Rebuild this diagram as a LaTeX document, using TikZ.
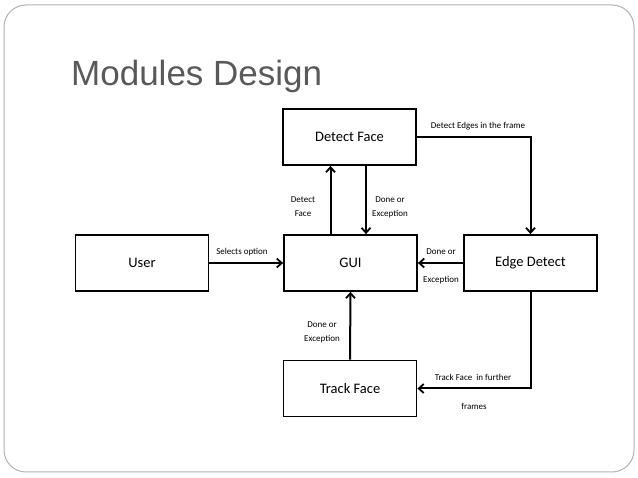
\documentclass[tikz,border=0pt]{standalone}
\usepackage{fontspec}
\setmainfont{Carlito}
\newfontfamily\titlefont{Liberation Sans}
\usetikzlibrary{arrows.meta}
\definecolor{titlegray}{RGB}{89,89,89}
\begin{document}
\begin{tikzpicture}[x=1pt,y=-1pt,
  modbox/.style={draw=black,line width=1.8pt,fill=white,minimum width=133pt,minimum height=56pt,inner sep=0pt,
    font=\fontsize{14.5}{16}\selectfont},
  arr/.style={line width=2pt,-{Straight Barb[length=5pt,width=9pt,line width=1.8pt]}},
  lbl/.style={font=\fontsize{9}{11}\selectfont,inner sep=0pt,align=center}]
\useasboundingbox (0,0) rectangle (638,478);
\draw[gray!60,line width=1pt,rounded corners=22pt] (4,5) rectangle (634,472);
\node[text=titlegray,font=\titlefont\fontsize{35}{40}\selectfont,anchor=base west,inner sep=0pt] (title) at (71,86) {Modules Design};

\node[modbox] (DF) at (349.5,137) {Detect Face};
\node[modbox] (US) at (142,263) {User};
\node[modbox] (GUI) at (350.5,263) {GUI};
\node[modbox] (ED) at (530.5,263) {Edge Detect};
\node[modbox] (TF) at (350,388.5) {Track Face};

\draw[arr] ([xshift=-20pt]GUI.north) -- ([xshift=-20pt]GUI.north |- DF.south);
\draw[arr] ([xshift=16.5pt]DF.south) -- ([xshift=16.5pt]DF.south |- GUI.north);
\draw[arr] (DF.east) -| (ED.north);
\draw[arr] (US.east) -- (GUI.west);
\draw[arr] (ED.west) -- (GUI.east);
\draw[arr] (ED.south) |- (TF.east);
\draw[arr] (TF.north) -- (GUI.south);

\node[lbl] (l1) at (303,207) {Detect\\[3pt]Face};
\node[lbl] (l2) at (390,207) {Done or\\[3pt]Exception};
\node[lbl] (l3) at (478,126) {Detect Edges in the frame};
\node[lbl] (l4) at (242,252) {Selects option};
\node[lbl] (l5) at (441,252) {Done or};
\node[lbl] (l6) at (441,280) {Exception};
\node[lbl] (l7) at (322,332) {Done or\\[3pt]Exception};
\node[lbl] (l8) at (473,377) {Track Face\ \ in further};
\node[lbl] (l9) at (474,406) {frames};
\end{tikzpicture}
\end{document}
